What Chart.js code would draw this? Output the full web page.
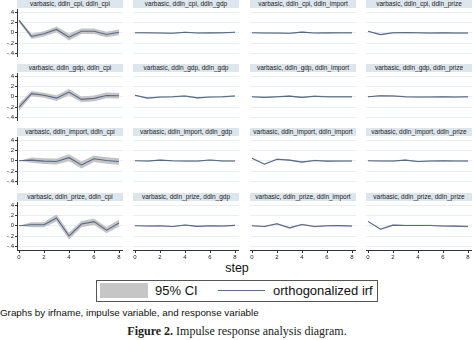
<!DOCTYPE html>
<html>
<head>
<meta charset="utf-8">
<script src="https://cdn.jsdelivr.net/npm/chart.js@4/dist/chart.umd.min.js"></script>
<style>
  html, body { margin: 0; padding: 0; background: #fff; }
  #page { position: relative; width: 474px; height: 340px; overflow: hidden; font-family: "Liberation Sans", Arial, sans-serif; }
  .strip { position: absolute; height: 8px; background: #dde6ed; color: #222; font-size: 6.5px; line-height: 8px; text-align: center; white-space: nowrap; }
  .panel { position: absolute; }
  #steplab { position: absolute; left: 0; width: 474px; top: 261px; text-align: center; font-size: 12.5px; color: #111; }
  #legend { position: absolute; left: 96px; top: 280px; width: 280px; height: 20px; border: 1px solid #555; }
  #legend .sw { position: absolute; left: 3px; top: 2px; width: 48px; height: 15px; background: #c6c6c6; }
  #legend .ln { position: absolute; left: 121px; top: 9px; width: 47px; height: 0; border-top: 1.5px solid #5a6d87; }
  #legend .tx { position: absolute; top: 2px; font-size: 13px; line-height: 16px; color: #111; white-space: nowrap; }
  #note { position: absolute; left: 0; top: 307px; font-size: 9.8px; color: #111; white-space: nowrap; }
  #caption { position: absolute; left: 0; width: 474px; top: 324px; text-align: center; font-family: "Liberation Serif", "Times New Roman", serif; font-size: 12px; color: #222; }
</style>
</head>
<body>
<div id="page">
  <div id="steplab">step</div>
  <div id="legend">
    <div class="sw"></div><div class="tx" style="left:58px">95% CI</div>
    <div class="ln"></div><div class="tx" style="left:176px">orthogonalized irf</div>
  </div>
  <div id="note">Graphs by irfname, impulse variable, and response variable</div>
  <div id="caption"><b>Figure 2.</b> Impulse response analysis diagram.</div>
</div>
<script>
// steps and variables
const steps = [0, 1, 2, 3, 4, 5, 6, 7, 8];
const irfName = 'varbasic';
const variables = ['ddln_cpi', 'ddln_gdp', 'ddln_import', 'ddln_prize'];
const yTicks = [-0.4, -0.2, 0, 0.2, 0.4];
const yTickLabels = ['-.4', '-.2', '0', '.2', '.4'];
const xTicks = [0, 2, 4, 6, 8];

// impulse ddln_cpi
const irf_cpi_cpi = [0.24, -0.07, -0.02, 0.065, -0.085, 0.03, 0.03, -0.033, 0.01];
const lo_cpi_cpi  = [0.21, -0.12, -0.07, 0.01, -0.15, -0.025, -0.025, -0.088, -0.045];
const hi_cpi_cpi  = [0.27, -0.02, 0.03, 0.12, -0.02, 0.085, 0.085, 0.022, 0.065];
const irf_cpi_gdp = [0, 0, -0.003, -0.008, 0.01, -0.003, -0.002, 0, 0.01];
const lo_cpi_gdp  = [-0.008, -0.012, -0.015, -0.02, -0.002, -0.015, -0.014, -0.012, -0.002];
const hi_cpi_gdp  = [0.008, 0.012, 0.009, 0.004, 0.022, 0.009, 0.01, 0.012, 0.022];
const irf_cpi_import = [0, -0.003, -0.005, -0.01, 0.012, -0.004, -0.002, 0, 0];
const lo_cpi_import  = [-0.008, -0.015, -0.017, -0.022, 0, -0.016, -0.014, -0.012, -0.012];
const hi_cpi_import  = [0.008, 0.009, 0.007, 0.002, 0.024, 0.008, 0.01, 0.012, 0.012];
const irf_cpi_prize = [0.03, -0.035, 0, 0.003, 0, -0.004, 0, -0.004, -0.004];
const lo_cpi_prize  = [0.02, -0.048, -0.013, -0.01, -0.013, -0.017, -0.013, -0.017, -0.017];
const hi_cpi_prize  = [0.04, -0.022, 0.013, 0.016, 0.013, 0.009, 0.013, 0.009, 0.009];

// impulse ddln_gdp
const irf_gdp_cpi = [-0.2, 0.06, 0.03, -0.026, 0.09, -0.05, -0.03, 0.026, 0.02];
const lo_gdp_cpi  = [-0.27, 0.01, -0.02, -0.08, 0.03, -0.105, -0.085, -0.029, -0.035];
const hi_gdp_cpi  = [-0.13, 0.11, 0.08, 0.028, 0.15, 0.005, 0.025, 0.081, 0.075];
const irf_gdp_gdp = [0.03, -0.025, -0.005, 0, 0.015, -0.02, -0.005, 0, 0.015];
const lo_gdp_gdp  = [0.02, -0.038, -0.018, -0.013, 0.002, -0.033, -0.018, -0.013, 0.002];
const hi_gdp_gdp  = [0.04, -0.012, 0.008, 0.013, 0.028, -0.007, 0.008, 0.013, 0.028];
const irf_gdp_import = [0, -0.012, 0, 0.012, -0.012, 0.01, 0, 0, 0];
const lo_gdp_import  = [-0.008, -0.025, -0.013, -0.001, -0.025, -0.003, -0.013, -0.013, -0.013];
const hi_gdp_import  = [0.008, 0.001, 0.013, 0.025, 0.001, 0.023, 0.013, 0.013, 0.013];
const irf_gdp_prize = [0, 0.02, 0.015, 0, -0.005, -0.003, 0, -0.005, 0];
const lo_gdp_prize  = [-0.008, 0.007, 0.002, -0.013, -0.018, -0.016, -0.013, -0.018, -0.013];
const hi_gdp_prize  = [0.008, 0.033, 0.028, 0.013, 0.008, 0.01, 0.013, 0.008, 0.013];

// impulse ddln_import
const irf_import_cpi = [0, 0.013, -0.007, -0.013, 0.06, -0.08, 0.04, 0.007, -0.013];
const lo_import_cpi  = [0, -0.037, -0.062, -0.072, -0.007, -0.147, -0.022, -0.055, -0.075];
const hi_import_cpi  = [0, 0.063, 0.048, 0.046, 0.127, -0.013, 0.102, 0.069, 0.049];
const irf_import_gdp = [0, -0.005, 0.012, 0, -0.005, -0.005, 0.015, -0.003, -0.003];
const lo_import_gdp  = [-0.006, -0.017, 0, -0.012, -0.017, -0.017, 0.003, -0.015, -0.015];
const hi_import_gdp  = [0.006, 0.007, 0.024, 0.012, 0.007, 0.007, 0.027, 0.009, 0.009];
const irf_import_import = [0.05, -0.065, 0.03, 0.013, -0.026, 0.007, -0.007, -0.005, -0.003];
const lo_import_import  = [0.04, -0.078, 0.017, 0, -0.039, -0.006, -0.02, -0.018, -0.016];
const hi_import_import  = [0.06, -0.052, 0.043, 0.026, -0.013, 0.02, 0.006, 0.008, 0.01];
const irf_import_prize = [0, -0.003, -0.003, 0.012, -0.015, -0.003, 0, -0.003, -0.003];
const lo_import_prize  = [-0.006, -0.015, -0.015, 0, -0.027, -0.015, -0.012, -0.015, -0.015];
const hi_import_prize  = [0.006, 0.009, 0.009, 0.024, -0.003, 0.009, 0.012, 0.009, 0.009];

// impulse ddln_prize
const irf_prize_cpi = [0, 0.02, 0.02, 0.15, -0.196, 0.033, 0.08, -0.085, 0.052];
const lo_prize_cpi  = [0, -0.03, -0.03, 0.085, -0.265, -0.027, 0.02, -0.145, -0.013];
const hi_prize_cpi  = [0, 0.07, 0.07, 0.215, -0.127, 0.093, 0.14, -0.025, 0.117];
const irf_prize_gdp = [0, -0.003, 0, -0.015, 0.015, -0.012, 0, -0.005, 0.008];
const lo_prize_gdp  = [-0.006, -0.015, -0.012, -0.027, 0.003, -0.024, -0.012, -0.017, -0.004];
const hi_prize_gdp  = [0.006, 0.009, 0.012, -0.003, 0.027, 0, 0.012, 0.007, 0.02];
const irf_prize_import = [0, -0.013, 0.04, -0.04, 0.026, -0.013, 0, 0.003, -0.005];
const lo_prize_import  = [-0.008, -0.026, 0.027, -0.053, 0.013, -0.026, -0.013, -0.01, -0.018];
const hi_prize_import  = [0.008, 0, 0.053, -0.027, 0.039, 0, 0.013, 0.016, 0.008];
const irf_prize_prize = [0.085, -0.065, 0.013, 0.007, 0.007, 0.007, -0.005, -0.007, -0.013];
const lo_prize_prize  = [0.075, -0.078, 0, -0.006, -0.006, -0.006, -0.018, -0.02, -0.026];
const hi_prize_prize  = [0.095, -0.052, 0.026, 0.02, 0.02, 0.02, 0.008, 0.006, 0];

// rows = impulse, columns = response
const panels = [
  [[irf_cpi_cpi, lo_cpi_cpi, hi_cpi_cpi], [irf_cpi_gdp, lo_cpi_gdp, hi_cpi_gdp], [irf_cpi_import, lo_cpi_import, hi_cpi_import], [irf_cpi_prize, lo_cpi_prize, hi_cpi_prize]],
  [[irf_gdp_cpi, lo_gdp_cpi, hi_gdp_cpi], [irf_gdp_gdp, lo_gdp_gdp, hi_gdp_gdp], [irf_gdp_import, lo_gdp_import, hi_gdp_import], [irf_gdp_prize, lo_gdp_prize, hi_gdp_prize]],
  [[irf_import_cpi, lo_import_cpi, hi_import_cpi], [irf_import_gdp, lo_import_gdp, hi_import_gdp], [irf_import_import, lo_import_import, hi_import_import], [irf_import_prize, lo_import_prize, hi_import_prize]],
  [[irf_prize_cpi, lo_prize_cpi, hi_prize_cpi], [irf_prize_gdp, lo_prize_gdp, hi_prize_gdp], [irf_prize_import, lo_prize_import, hi_prize_import], [irf_prize_prize, lo_prize_prize, hi_prize_prize]]
];

const page = document.getElementById('page');
const colLeft = [17, 133, 250, 366];
const rowTop = [9, 73, 137, 202];
const plotW = 106, plotH = 48, yAxisW = 17, xAxisH = 14;
const tickFont = { family: 'Liberation Sans, Arial, sans-serif', size: 6 };

const toXY = (arr) => steps.map((s, i) => ({ x: s, y: arr[i] }));

for (let r = 0; r < 4; r++) {
  for (let c = 0; c < 4; c++) {
    const [irf, lo, hi] = panels[r][c];
    const showY = c === 0, showX = r === 3;

    const strip = document.createElement('div');
    strip.className = 'strip';
    strip.style.left = colLeft[c] + 'px';
    strip.style.top = (rowTop[r] - 9) + 'px';
    strip.style.width = plotW + 'px';
    strip.textContent = irfName + ', ' + variables[r] + ', ' + variables[c];
    page.appendChild(strip);

    const w = plotW + (showY ? yAxisW : 0);
    const h = plotH + (showX ? xAxisH : 0);
    const box = document.createElement('div');
    box.className = 'panel';
    box.style.left = (colLeft[c] - (showY ? yAxisW : 0)) + 'px';
    box.style.top = rowTop[r] + 'px';
    box.style.width = w + 'px';
    box.style.height = h + 'px';
    const canvas = document.createElement('canvas');
    box.appendChild(canvas);
    page.appendChild(box);

    new Chart(canvas.getContext('2d'), {
      type: 'line',
      data: {
        datasets: [
          { data: toXY(irf), borderColor: '#56698a', borderWidth: 1.1, pointRadius: 0, pointHoverRadius: 0, fill: false, tension: 0 },
          { data: toXY(hi), borderWidth: 0, borderColor: 'rgba(0,0,0,0)', backgroundColor: '#c4c4c4', pointRadius: 0, pointHoverRadius: 0, fill: '+1', tension: 0 },
          { data: toXY(lo), borderWidth: 0, borderColor: 'rgba(0,0,0,0)', pointRadius: 0, pointHoverRadius: 0, fill: false, tension: 0 }
        ]
      },
      options: {
        responsive: true,
        maintainAspectRatio: false,
        animation: false,
        events: [],
        layout: { padding: 0, autoPadding: false },
        plugins: { legend: { display: false }, tooltip: { enabled: false }, title: { display: false } },
        scales: {
          x: {
            type: 'linear', min: -0.16, max: 8.32,
            display: true,
            afterBuildTicks: (s) => { s.ticks = xTicks.map(v => ({ value: v })); },
            afterFit: (s) => { s.height = showX ? xAxisH : 0; s.paddingLeft = 0; s.paddingRight = 0; },
            grid: { display: showX, drawOnChartArea: false, drawTicks: showX, tickLength: 3, tickColor: '#333' },
            border: { display: showX, color: '#333', width: 1 },
            ticks: { display: showX, font: tickFont, color: '#222', padding: 1, maxRotation: 0, autoSkip: false }
          },
          y: {
            min: -0.466, max: 0.458,
            afterBuildTicks: (s) => { s.ticks = yTicks.map(v => ({ value: v })); },
            afterFit: (s) => { s.width = showY ? yAxisW : 0; s.paddingTop = 0; s.paddingBottom = 0; },
            grid: { display: true, color: '#e9eef3', lineWidth: 1, drawTicks: showY, tickLength: 2, tickColor: '#333' },
            border: { display: showY, color: '#333', width: 1 },
            ticks: {
              display: showY, font: tickFont, color: '#222', padding: 1, autoSkip: false,
              callback: (v) => yTickLabels[yTicks.indexOf(v)] ?? ''
            }
          }
        }
      }
    });
  }
}
</script>
</body>
</html>
